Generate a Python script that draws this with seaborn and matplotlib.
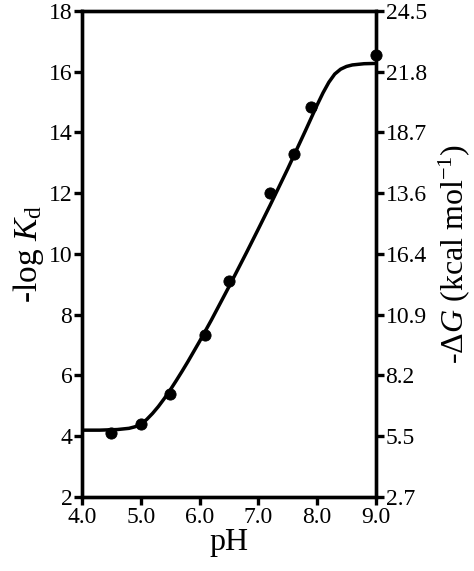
import numpy as np
import pandas as pd
import matplotlib
matplotlib.use("Agg")
import matplotlib.pyplot as plt
import seaborn as sns

# measured points
ph_pts = [4.5, 5.0, 5.5, 6.1, 6.5, 7.2, 7.6, 7.9, 9.0]
logkd_pts = [4.1, 4.4, 5.4, 7.33, 9.1, 12.0, 13.3, 14.85, 16.55]

# fitted curve
ph_fit = [4.0, 4.3, 4.6, 4.8, 4.9, 5.0, 5.1, 5.2, 5.3, 5.4, 5.5, 5.6, 5.7, 5.8, 6.0,
          6.2, 6.5, 6.8, 7.0, 7.2, 7.5, 7.8, 8.0, 8.1, 8.2, 8.3, 8.4, 8.5, 8.6, 8.8, 9.0]
logkd_fit = [4.2, 4.2, 4.22, 4.26, 4.31, 4.4, 4.55, 4.75, 4.98, 5.24, 5.52, 5.82, 6.13,
             6.45, 7.12, 7.82, 8.92, 10.05, 10.82, 11.6, 12.8, 14.05, 14.9, 15.3, 15.65,
             15.92, 16.08, 16.17, 16.22, 16.26, 16.27]

left_ticks = [2, 4, 6, 8, 10, 12, 14, 16, 18]
right_labels = ["2.7", "5.5", "8.2", "10.9", "16.4", "13.6", "18.7", "21.8", "24.5"]
x_ticks = [4.0, 5.0, 6.0, 7.0, 8.0, 9.0]

sns.set_style("ticks")
plt.rcParams["font.family"] = ["Liberation Serif", "DejaVu Serif"]
plt.rcParams["mathtext.fontset"] = "custom"
plt.rcParams["mathtext.it"] = "Liberation Serif:italic"
plt.rcParams["mathtext.rm"] = "Liberation Serif"
plt.rcParams["text.color"] = "black"
plt.rcParams["axes.labelcolor"] = "black"
plt.rcParams["xtick.color"] = "black"
plt.rcParams["ytick.color"] = "black"

fig = plt.figure(figsize=(4.74, 5.71), dpi=100)
ax = fig.add_axes([0.173, 0.1296, 0.62, 0.8514])

fit = pd.DataFrame({"pH": ph_fit, "logkd": logkd_fit})
pts = pd.DataFrame({"pH": ph_pts, "logkd": logkd_pts})
sns.lineplot(data=fit, x="pH", y="logkd", ax=ax, color="black", lw=2.5, sort=True)
sns.scatterplot(data=pts, x="pH", y="logkd", ax=ax, color="black", s=65,
                edgecolor="black", clip_on=False, zorder=5)

ax.set_xlim(4.0, 9.0)
ax.set_ylim(2, 18)
ax.set_xticks(x_ticks)
ax.set_xticklabels([f"{v:.1f}" for v in x_ticks])
ax.set_yticks(left_ticks)
ax.set_xlabel("pH", fontsize=23, labelpad=0)
ax.set_ylabel(r"-log $K$$_{\rm d}$", fontsize=24, labelpad=2)

ax2 = ax.twinx()
ax2.set_ylim(2, 18)
ax2.set_yticks(left_ticks)
ax2.set_yticklabels(right_labels)
ax2.set_ylabel(r"-$\Delta$$G$ (kcal mol$^{-1}$)", fontsize=23, labelpad=7)

for a in (ax, ax2):
    for s in a.spines.values():
        s.set_linewidth(2.4)
        s.set_color("black")
        s.set_visible(True)
    a.tick_params(axis="both", direction="out", length=6, width=2.4,
                  labelsize=17, pad=1)

fig.savefig("out.png", dpi=100)
